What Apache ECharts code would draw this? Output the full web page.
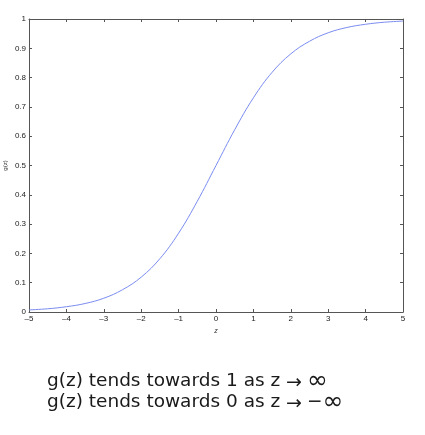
<!DOCTYPE html>
<html><head><meta charset="utf-8">
<script src="https://cdn.jsdelivr.net/npm/echarts@6/dist/echarts.min.js"></script>
<style>html,body{margin:0;padding:0;background:#fff;}#c{width:425px;height:435px;}</style>
</head><body><div id="c"></div>
<script>
const zValues = [-5,-4.5,-4,-3.5,-3,-2.5,-2,-1.5,-1,-0.5,0,0.5,1,1.5,2,2.5,3,3.5,4,4.5,5];
const gValues = [0.007,0.011,0.018,0.029,0.047,0.076,0.119,0.182,0.269,0.378,0.5,0.622,0.731,0.818,0.881,0.924,0.953,0.971,0.982,0.989,0.993];
const xTicks = [-5,-4,-3,-2,-1,0,1,2,3,4,5];
const yTicks = [0,0.1,0.2,0.3,0.4,0.5,0.6,0.7,0.8,0.9,1];
const captionText = ['g(z) tends towards 1 as z','g(z) tends towards 0 as z'];
const captionArrow = '\u2192';
const captionLimit = ['\u221E','\u2212\u221E'];

const chart = echarts.init(document.getElementById('c'), null, {renderer:'canvas'});
const axisCol = '#555';
const lblStyle = {color:'#222', fontSize:8, fontFamily:'Liberation Sans, Arial, sans-serif'};
const fmtX = v => (v < 0 ? '\u2013' + Math.abs(v) : String(v));
const fmtY = v => String(Math.round(v*10)/10);
const baseX = {type:'value', min:-5, max:5, interval:1, splitLine:{show:false},
  axisLine:{show:true, onZero:false, lineStyle:{color:axisCol, width:1}},
  axisTick:{show:true, inside:true, length:3, lineStyle:{color:axisCol}}};
const baseY = {type:'value', min:0, max:1, interval:0.1, splitLine:{show:false},
  axisLine:{show:true, onZero:false, lineStyle:{color:axisCol, width:1}},
  axisTick:{show:true, inside:true, length:3, lineStyle:{color:axisCol}}};
const capFont = '"DejaVu Sans", Verdana, sans-serif';
const capCol = '#1a1a1a';
const lineY = [381, 402];
const graphics = [];
for (let i = 0; i < 2; i++) {
  graphics.push({type:'text', x:47, y:lineY[i], style:{text:captionText[i], fill:capCol, font:'18.5px ' + capFont, verticalAlign:'middle'}});
  graphics.push({type:'text', x:286, y:lineY[i] + 2, style:{text:captionArrow, fill:capCol, font:'19px ' + capFont, verticalAlign:'middle'}});
  graphics.push({type:'text', x:307, y:lineY[i], style:{
    text: i === 0 ? '{inf|' + captionLimit[i] + '}' : '{m|\u2212}{inf|\u221E}',
    verticalAlign:'middle',
    rich:{inf:{fill:capCol, fontSize:25, fontFamily:capFont}, m:{fill:capCol, fontSize:18.5, fontFamily:capFont}}
  }});
}
chart.setOption({
  animation:false,
  backgroundColor:'#fff',
  grid:{left:29, top:19, right:22, bottom:123, containLabel:false, outerBoundsMode:'none'},
  xAxis:[
    Object.assign({}, baseX, {position:'bottom', name:'z', nameLocation:'middle', nameGap:16, nameMoveOverlap:false,
      nameTextStyle:{color:'#333', fontSize:7, fontStyle:'italic', fontFamily:'Liberation Sans, Arial, sans-serif'},
      axisLabel:Object.assign({}, lblStyle, {margin:3, formatter:fmtX})}),
    Object.assign({}, baseX, {position:'top', axisLabel:{show:false}})
  ],
  yAxis:[
    Object.assign({}, baseY, {position:'left', name:'g(z)', nameLocation:'middle', nameGap:21, nameRotate:90, nameMoveOverlap:false,
      nameTextStyle:{color:'#333', fontSize:6, fontFamily:'Liberation Sans, Arial, sans-serif'},
      axisLabel:Object.assign({}, lblStyle, {margin:3, formatter:fmtY})}),
    Object.assign({}, baseY, {position:'right', axisLabel:{show:false}})
  ],
  series:[{
    type:'line', xAxisIndex:0, yAxisIndex:0,
    data: zValues.map((z,i)=>[z, gValues[i]]),
    smooth:0.4, showSymbol:false, symbol:'none',
    lineStyle:{color:'#7b8cf0', width:1}
  }],
  graphic: graphics
});
</script></body></html>
